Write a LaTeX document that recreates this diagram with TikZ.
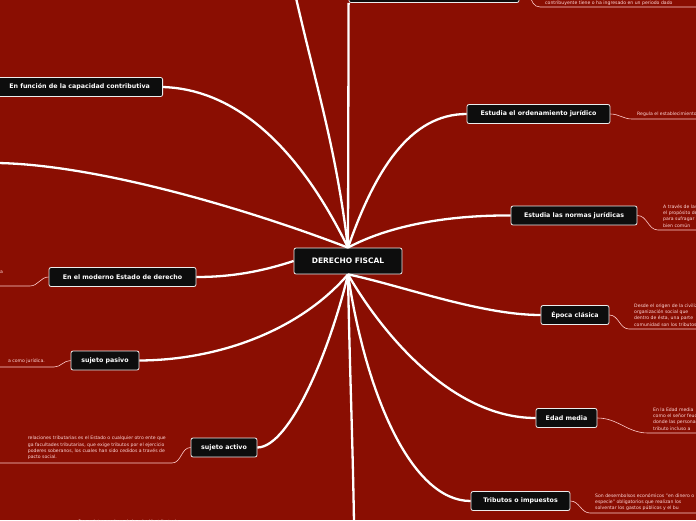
\documentclass[tikz,border=0pt]{standalone}
\usepackage{fontspec}
\setmainfont{DejaVu Sans}
\begin{document}
\begin{tikzpicture}[x=1pt,y=-1pt,
  box/.style={draw=white!85!gray,line width=0.8pt,fill=black!95,rounded corners=2pt,text=white,font=\bfseries\fontsize{6.3}{7}\selectfont,inner sep=0pt,minimum height=19pt},
  desc/.style={text=white!85!red,font=\fontsize{4.6}{6.2}\selectfont,align=left,anchor=west,inner sep=0pt},
  main/.style={white,line width=2.3pt},
  sub/.style={white!80!red,line width=0.6pt}]
\fill[fill={rgb,255:red,138;green,14;blue,2}] (0,0) rectangle (696,520);
\useasboundingbox (0,0) rectangle (696,520);
% nodes
\node[box,minimum width=108pt,minimum height=26pt,font=\bfseries\fontsize{7.5}{8}\selectfont] (c) at (348,261) {DERECHO FISCAL};
\node[box,minimum width=170pt] (top) at (434,-7) {};
\coordinate (t1) at (296,-2);
\coordinate (l1) at (-2,163);
\coordinate (bot) at (354,522);
\node[box,minimum width=166pt,anchor=east] (f) at (163,87) {En función de la capacidad contributiva};
\node[box,minimum width=147pt] (m) at (122.5,277) {En el moderno Estado de derecho};
\node[box,minimum width=68pt] (sp) at (105,360.5) {sujeto pasivo};
\node[box,minimum width=66pt] (sa) at (224,447.5) {sujeto activo};
\node[box,minimum width=143pt] (o) at (538.5,114) {Estudia el ordenamiento jurídico};
\node[box,minimum width=126pt] (n) at (574,215.5) {Estudia las normas jurídicas};
\node[box,minimum width=68pt] (e) at (575,315) {Época clásica};
\node[box,minimum width=61pt] (em) at (566.5,418) {Edad media};
\node[box,minimum width=99pt] (ti) at (520.5,501) {Tributos o impuestos};
% main connectors
\draw[main] (c.north) to[out=97,in=-77] (t1);
\draw[main] (c.north) -- (top.south west);
\draw[main] (c.north) .. controls (310,170) and (250,90) .. (f.east);
\draw[main] (c.north) .. controls (250,210) and (100,165) .. (l1);
\draw[main] (c.west) .. controls (260,272) and (230,277) .. (m.east);
\draw[main] (c.south) .. controls (300,330) and (220,360) .. (sp.east);
\draw[main] (c.south) .. controls (330,350) and (290,447) .. (sa.east);
\draw[main] (c.south) to[out=-89,in=91] (bot);
\draw[main] (c.north) .. controls (375,170) and (410,114) .. (o.west);
\draw[main] (c.north) .. controls (390,225) and (450,215) .. (n.west);
\draw[main] (c.south) .. controls (400,285) and (480,315) .. (e.west);
\draw[main] (c.south) .. controls (380,330) and (450,418) .. (em.west);
\draw[main] (c.south) .. controls (365,390) and (410,501) .. (ti.west);
% descriptions
\coordinate (u0) at (540,7); \coordinate (u0e) at (700,7);
\draw[sub] (530,-5) to[out=-80,in=180] (u0) -- (u0e);
\node[desc] at (545,3.5) {contribuyente tiene o ha ingresado en un periodo dado};
\coordinate (u1) at (632,119);
\draw[sub] (o.east) to[out=0,in=180] (u1) -- (700,119);
\node[desc] at (637,114) {Regula el establecimiento};
\coordinate (u2) at (658,230);
\draw[sub] (n.east) to[out=0,in=180] (u2) -- (700,230);
\node[desc] at (663,216) {A través de las\\el propósito de\\para sufragar lo\\bien común};
\coordinate (u3) at (629,329);
\draw[sub] (e.east) to[out=0,in=180] (u3) -- (700,329);
\node[desc] at (634,315) {Desde el origen de la civilización\\organización social que\\dentro de ésta, una parte\\comunidad son los tributos};
\coordinate (u4) at (648,433);
\draw[sub] (em.east) to[out=0,in=180] (u4) -- (700,433);
\node[desc] at (653,419) {En la Edad media\\como el señor feudal\\donde las personas\\tributo incluso a};
\coordinate (u5) at (590,513);
\draw[sub] (ti.east) to[out=0,in=180] (u5) -- (700,513);
\node[desc] at (595,502) {Son desembolsos económicos "en dinero o\\especie" obligatorios que realizan los\\solventar los gastos públicos y el bu};
\coordinate (u6) at (30,286);
\draw[sub] (m.west) to[out=180,in=0] (u6) -- (-5,286);
\node[desc] at (0,272) {a};
\coordinate (u7) at (54,367);
\draw[sub] (sp.west) to[out=180,in=0] (u7) -- (-5,367);
\node[desc,anchor=east] at (45,361) {a como jurídica.};
\coordinate (u8) at (172,463);
\draw[sub] (sa.west) to[out=180,in=0] (u8) -- (-5,463);
\node[desc,anchor=east,align=left] at (166,448) {relaciones tributarias es el Estado o cualquier otro ente que\\ga facultades tributarias, que exige tributos por el ejercicio\\poderes soberanos, los cuales han sido cedidos a través de\\pacto social.};
\node[desc] at (78,522) {Son sujetos pasivos de la relación tributaria};
\end{tikzpicture}
\end{document}
